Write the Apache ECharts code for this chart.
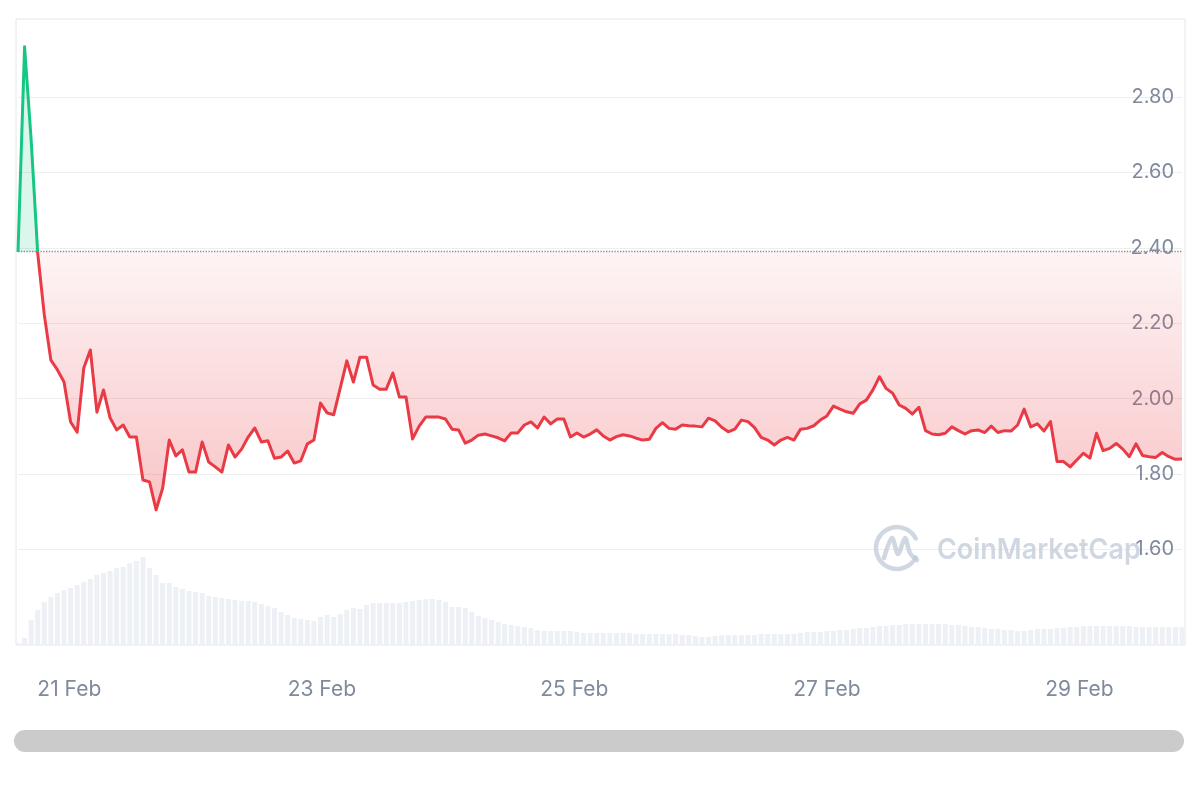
<!DOCTYPE html>
<html>
<head>
<meta charset="utf-8">
<script src="https://cdn.jsdelivr.net/npm/echarts@6/dist/echarts.min.js"></script>
<style>
html,body{margin:0;padding:0;background:#ffffff;}
#chart{width:1200px;height:800px;}
</style>
</head>
<body>
<div id="chart"></div>
<script>
// ---- data ----
const startTime = Date.UTC(2024, 1, 20, 14, 15);
const stepMinutes = 75;
const openPrice = 2.389;

const priceValues = [
  2.389, 2.933, 2.686, 2.385, 2.222, 2.102, 2.076, 2.044, 1.938, 1.911,
  2.081, 2.129, 1.964, 2.023, 1.949, 1.917, 1.930, 1.898, 1.898, 1.784,
  1.779, 1.705, 1.763, 1.890, 1.848, 1.864, 1.805, 1.805, 1.885, 1.832,
  1.819, 1.805, 1.877, 1.845, 1.866, 1.898, 1.922, 1.885, 1.888, 1.842,
  1.845, 1.861, 1.829, 1.835, 1.880, 1.890, 1.988, 1.962, 1.957, 2.028,
  2.100, 2.044, 2.110, 2.110, 2.036, 2.025, 2.025, 2.068, 2.004, 2.004,
  1.893, 1.927, 1.951, 1.951, 1.951, 1.946, 1.919, 1.917, 1.882, 1.890,
  1.903, 1.906, 1.901, 1.896, 1.888, 1.909, 1.909, 1.930, 1.938, 1.922,
  1.951, 1.933, 1.946, 1.946, 1.898, 1.909, 1.898, 1.906, 1.917, 1.901,
  1.890, 1.899, 1.904, 1.901, 1.895, 1.890, 1.892, 1.921, 1.936, 1.921,
  1.919, 1.930, 1.928, 1.927, 1.925, 1.948, 1.941, 1.924, 1.912, 1.919,
  1.943, 1.939, 1.923, 1.897, 1.890, 1.877, 1.890, 1.897, 1.890, 1.919,
  1.921, 1.928, 1.943, 1.954, 1.980, 1.972, 1.965, 1.961, 1.986, 1.996,
  2.023, 2.058, 2.027, 2.014, 1.983, 1.974, 1.959, 1.977, 1.915, 1.906,
  1.904, 1.908, 1.925, 1.915, 1.906, 1.915, 1.917, 1.910, 1.927, 1.910,
  1.915, 1.914, 1.930, 1.972, 1.925, 1.933, 1.914, 1.939, 1.833, 1.833,
  1.819, 1.837, 1.855, 1.842, 1.908, 1.862, 1.868, 1.881, 1.866, 1.846,
  1.880, 1.849, 1.846, 1.844, 1.857, 1.846, 1.839, 1.840
];

const volumeValues = [
  2, 7, 25, 35, 43, 48, 52, 55, 57, 60,
  63, 66, 70, 72, 74, 77, 78, 82, 84, 88,
  77, 70, 62, 62, 58, 56, 54, 53, 52, 49,
  48, 47, 46, 45, 44, 44, 43, 41, 39, 37,
  33, 30, 27, 26, 25, 24, 28, 30, 28, 31,
  35, 37, 36, 40, 42, 42, 42, 42, 42, 43,
  44, 45, 46, 46, 45, 43, 38, 38, 37, 33,
  29, 27, 25, 23, 21, 20, 19, 18, 17, 15,
  14, 14, 14, 14, 14, 13, 12, 12, 12, 12,
  12, 12, 12, 12, 11, 11, 11, 11, 11, 11,
  11, 10, 10, 9, 8, 8, 9, 10, 10, 10,
  10, 10, 10, 11, 11, 11, 11, 11, 11, 12,
  13, 13, 13, 14, 14, 15, 15, 16, 17, 17,
  18, 19, 19, 20, 20, 21, 21, 21, 21, 21,
  21, 21, 20, 20, 19, 18, 18, 17, 16, 16,
  15, 15, 14, 14, 15, 16, 16, 16, 17, 17,
  18, 18, 19, 19, 19, 19, 19, 19, 19, 19,
  18, 18, 18, 18, 18, 18, 18, 18
];

const tickDates = ['2024-02-21', '2024-02-23', '2024-02-25', '2024-02-27', '2024-02-29'];
const tickLabels = ['21 Feb', '23 Feb', '25 Feb', '27 Feb', '29 Feb'];

// ---- derived ----
const times = priceValues.map((_, i) => startTime + i * stepMinutes * 60000);
const tickTimes = tickDates.map(d => Date.parse(d + 'T00:00:00Z'));
const priceData = priceValues.map((v, i) => [times[i], v]);
const belowData = priceValues.map((v, i) => [times[i], Math.min(v, openPrice)]);
const aboveData = priceValues.map((v, i) => [times[i], Math.max(v, openPrice)]);
const volumeData = volumeValues.map((v, i) => [times[i], v]);
const tMin = times[0], tMax = times[times.length - 1];
const pMax = Math.max(...priceValues), pMin = Math.min(...priceValues);
const splitAt = (pMax - openPrice) / (pMax - pMin); // where the open price falls inside the line's box

const labelColor = '#808a9d';
const fontFamily = 'Inter, "Noto Sans", "Liberation Sans", sans-serif';
const red = '#e93a45', green = '#16c784';
const wm = 'rgba(192,201,215,0.75)';

const lineColor = new echarts.graphic.LinearGradient(0, 0, 0, 1, [
  {offset: 0, color: green},
  {offset: splitAt, color: green},
  {offset: splitAt, color: red},
  {offset: 1, color: red}
]);

const chart = echarts.init(document.getElementById('chart'), null, {renderer: 'canvas'});
chart.setOption({
  backgroundColor: '#ffffff',
  animation: false,
  grid: [
    {left: 18, right: 18, top: 21.6, height: 603.2},
    {left: 18, right: 18, top: 545, bottom: 155},
    {left: 16, right: 15, top: 19, bottom: 155, show: true, borderColor: '#e6e6e6', borderWidth: 1, backgroundColor: 'transparent'}
  ],
  xAxis: [
    {type: 'value', gridIndex: 0, min: tMin, max: tMax, show: false, splitLine: {show: false}},
    {type: 'value', gridIndex: 1, min: tMin, max: tMax,
      axisLine: {show: false}, axisTick: {show: false}, splitLine: {show: false},
      axisLabel: {
        customValues: tickTimes,
        margin: 34,
        fontSize: 21, color: labelColor, fontFamily: fontFamily,
        formatter: function (val) {
          const idx = tickTimes.indexOf(Number(val));
          return idx >= 0 ? tickLabels[idx] : '';
        }
      }
    },
    {type: 'value', gridIndex: 2, show: false, splitLine: {show: false}}
  ],
  yAxis: [
    {type: 'value', gridIndex: 0, min: 1.4, max: 3.0, interval: 0.2, position: 'right',
      axisLine: {show: false}, axisTick: {show: false},
      axisLabel: {
        inside: true, margin: 8, fontSize: 20, color: labelColor, fontFamily: fontFamily,
        padding: [4, 0, 0, 0],
        formatter: function (v) { return (v < 1.5 || v > 2.9) ? '' : v.toFixed(2); }
      },
      splitLine: {show: true, showMinLine: false, showMaxLine: false, lineStyle: {color: '#eeeeee', width: 1}}
    },
    {type: 'value', gridIndex: 1, min: 0, max: 100, show: false, splitLine: {show: false}},
    {type: 'value', gridIndex: 2, show: false, splitLine: {show: false}}
  ],
  series: [
    {
      name: 'Price', type: 'line', xAxisIndex: 0, yAxisIndex: 0, data: priceData,
      symbol: 'none', smooth: false, z: 5,
      lineStyle: {width: 3, color: lineColor, join: 'round'},
      itemStyle: {color: red},
      markLine: {
        silent: true, symbol: ['none', 'none'], label: {show: false},
        lineStyle: {type: 'dotted', color: '#8f8f8f', width: 1.4},
        data: [{yAxis: openPrice}]
      }
    },
    {
      name: 'Below', type: 'line', xAxisIndex: 0, yAxisIndex: 0, data: belowData,
      symbol: 'none', silent: true, z: 3,
      lineStyle: {width: 0, opacity: 0},
      areaStyle: {
        origin: openPrice,
        color: new echarts.graphic.LinearGradient(0, 0, 0, 1, [
          {offset: 0, color: 'rgba(234,57,67,0.08)'},
          {offset: 1, color: 'rgba(234,57,67,0.42)'}
        ])
      }
    },
    {
      name: 'Above', type: 'line', xAxisIndex: 0, yAxisIndex: 0, data: aboveData,
      symbol: 'none', silent: true, z: 3,
      lineStyle: {width: 0, opacity: 0},
      areaStyle: {origin: openPrice, color: 'rgba(22,199,132,0.22)'}
    },
    {
      name: 'Volume', type: 'bar', xAxisIndex: 1, yAxisIndex: 1, data: volumeData,
      barWidth: 5, itemStyle: {color: '#edf0f4'}, silent: true, z: 1
    }
  ],
  graphic: [
    {type: 'arc', z: 10, silent: true,
      shape: {cx: 897, cy: 548, r: 21, startAngle: Math.PI * 0.15, endAngle: Math.PI * 1.85, clockwise: true},
      style: {fill: 'none', stroke: wm, lineWidth: 4.5, lineCap: 'round'}},
    {type: 'polyline', z: 10, silent: true,
      shape: {points: [[884, 558], [892, 538], [898, 554], [905, 538], [910, 553], [917, 560]], smooth: 0.3},
      style: {fill: 'none', stroke: wm, lineWidth: 4.5, lineCap: 'round', lineJoin: 'round'}},
    {type: 'text', z: 10, silent: true, x: 937, y: 550, scaleX: 0.93,
      style: {text: 'CoinMarketCap', fill: wm, font: '600 29px ' + fontFamily, verticalAlign: 'middle'}},
    {type: 'rect', silent: true,
      shape: {x: 14, y: 730, width: 1170, height: 22, r: 11},
      style: {fill: '#cbcbcb'}}
  ]
});
</script>
</body>
</html>
